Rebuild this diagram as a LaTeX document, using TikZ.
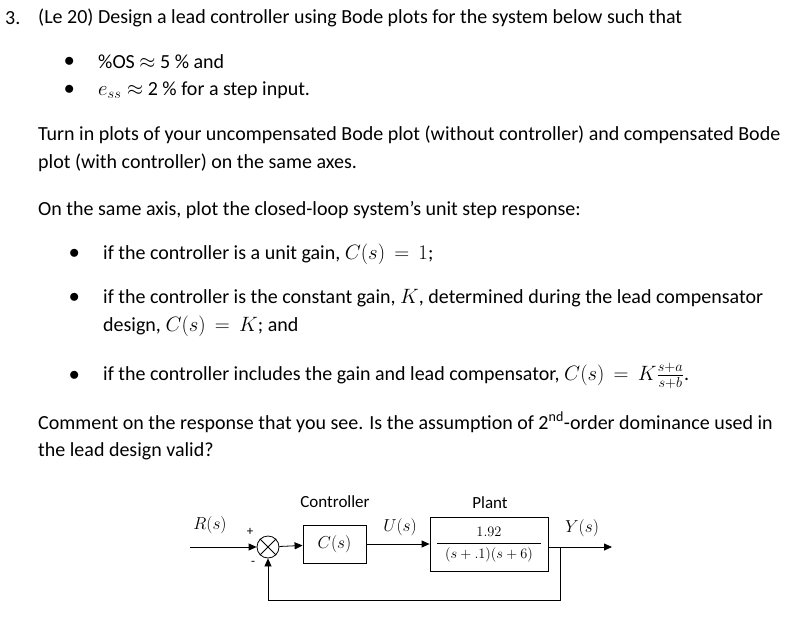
\documentclass[tikz,border=0pt]{standalone}
\usepackage{fontspec}
\setmainfont{Carlito}
\usetikzlibrary{arrows.meta}
\begin{document}
\begin{tikzpicture}[x=1pt,y=-1pt,
  txt/.style={anchor=west,inner sep=0pt,font=\fontsize{20}{24}\selectfont},
  lbl/.style={inner sep=0pt,font=\fontsize{17}{20}\selectfont},
  blk/.style={draw,line width=0.8pt,inner sep=0pt},
  sig/.style={line width=0.8pt,-{Triangle[length=8pt,width=7pt]}},
  ln/.style={line width=0.8pt}]
\useasboundingbox (0,0) rectangle (794,634);
\node[txt] (n3) at (5,18) {3.};
\node[txt] (t1) at (38,18) {(Le 20) Design a lead controller using Bode plots for the system below such that};
\node[txt] (b1) at (64,62) {$\bullet$};
\node[txt] (t2) at (98,62) {\%OS $\approx$ 5 \% and};
\node[txt] (b2) at (64,90) {$\bullet$};
\node[txt] (t3) at (98,90) {$e_{ss}\approx$ 2 \% for a step input.};
\node[txt] (t4) at (38,135) {Turn in plots of your uncompensated Bode plot (without controller) and compensated Bode};
\node[txt] (t5) at (38,163) {plot (with controller) on the same axes.};
\node[txt] (t6) at (38,210) {On the same axis, plot the closed-loop system’s unit step response:};
\node[txt] (b3) at (69,254) {$\bullet$};
\node[txt] (t7) at (103,254) {if the controller is a unit gain, $C(s)\,=\,1$;};
\node[txt] (b4) at (69,298) {$\bullet$};
\node[txt] (t8) at (103,298) {if the controller is the constant gain, $K$, determined during the lead compensator};
\node[txt] (t9) at (103,326) {design, $C(s)\,=\,K$; and};
\node[txt] (b5) at (69,376) {$\bullet$};
\node[txt] (t10) at (103,376) {if the controller includes the gain and lead compensator, $C(s)\,=\,K\frac{s+a}{s+b}$.};
\node[txt] (t11) at (38,422) {Comment on the response that you see. Is the assumption of 2\textsuperscript{nd}-order dominance used in};
\node[txt] (t12) at (38,451) {the lead design valid?};
% block diagram
\node[draw,circle,line width=0.8pt,minimum size=22pt,inner sep=0pt] (sum) at (268,547) {};
\draw[line width=0.8pt] (sum.north west) -- (sum.south east) (sum.north east) -- (sum.south west);
\node[blk,minimum width=63pt,minimum height=38pt] (C) at (334.5,544) {\fontsize{17}{20}\selectfont $C(s)$};
\node[blk,minimum width=118pt,minimum height=54pt] (P) at (489,544) {};
\node[lbl,font=\fontsize{15}{18}\selectfont] (num) at (489,532) {$1.92$};
\node[lbl,font=\fontsize{15}{18}\selectfont] (den) at (489,555) {$(s+.1)(s+6)$};
\draw[line width=0.6pt] (437,543) -- (541,543);
\coordinate (in) at (190,547);
\coordinate (br) at (560,547);
\coordinate (out) at (612,547);
\coordinate (fb1) at (560,600);
\coordinate (fb2) at (268,600);
\draw[sig] (in) -- (sum);
\draw[sig] (sum) -- (C);
\draw[sig] (C.east) -- (P.west |- C.east);
\draw[sig] (P.east |- br) -- (out);
\draw[ln] (br) -- (fb1) -- (fb2);
\draw[sig] (fb2) -- (sum);
\node[lbl] (R) at (210,525) {$R(s)$};
\node[lbl] (U) at (400,527) {$U(s)$};
\node[lbl] (Y) at (582,528) {$Y(s)$};
\node[lbl] (plus) at (250,532) {\fontsize{13}{15}\selectfont +};
\node[lbl] (minus) at (253,563) {\fontsize{13}{15}\selectfont -};
\node[lbl] (ctl) at (335,502) {Controller};
\node[lbl] (pl) at (490,503) {Plant};
\end{tikzpicture}
\end{document}
